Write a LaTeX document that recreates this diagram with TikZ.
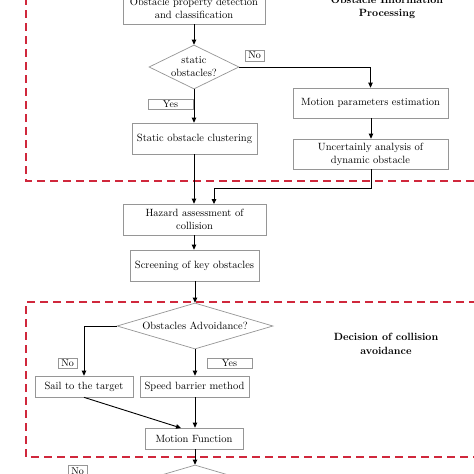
\documentclass[tikz,border=0pt]{standalone}
\usetikzlibrary{shapes.geometric,arrows.meta}
\definecolor{zonered}{RGB}{208,40,60}
\definecolor{boxgray}{RGB}{150,150,150}
\begin{document}
\begin{tikzpicture}[x=1pt,y=-1pt,
  box/.style={draw=boxgray, line width=0.7pt, align=center, inner sep=0pt, font=\fontsize{10.5}{13}\selectfont},
  dia/.style={diamond, draw=boxgray, line width=0.7pt, inner sep=0pt},
  diatext/.style={align=center, inner sep=0pt, font=\fontsize{10.5}{13}\selectfont},
  lbl/.style={draw=boxgray, line width=0.6pt, inner sep=0pt, font=\fontsize{10}{12}\selectfont},
  arr/.style={-{Triangle[length=5pt,width=4.5pt]}, line width=0.9pt},
  plain/.style={line width=0.9pt},
  zone/.style={draw=zonered, line width=1.6pt, dash pattern=on 8pt off 5pt},
  zonetext/.style={align=center, inner sep=0pt, font=\bfseries\fontsize{10.5}{13.5}\selectfont}]
\useasboundingbox (0,0) rectangle (474,474);
\clip (0,0) rectangle (474,474);
\fill[white] (0,0) rectangle (474,474);

% zones
\draw[zone] (490,-20) -- (26,-20) -- (26,181) -- (490,181);
\draw[zone] (490,302) -- (26,302) -- (26,457) -- (490,457);
\node[zonetext] (zt1) at (387,7.5) {Obstacle Information\\Processing};
\node[zonetext] (zt2) at (386,344) {Decision of collision\\avoidance};

% nodes
\node[box, minimum width=142pt, minimum height=31pt] (top) at (194,8.5) {Obstacle property detection\\and classification};
\node[dia, minimum width=90pt, minimum height=44pt] (d1) at (194,67) {};
\node[diatext] (d1t) at (194,67) {static\\obstacles?};
\node[lbl, minimum width=19pt, minimum height=11pt] (no1) at (254.5,55.5) {No};
\node[box, minimum width=155pt, minimum height=30pt] (mp) at (370.5,103) {Motion parameters estimation};
\node[box, minimum width=155pt, minimum height=30pt] (ua) at (370.5,154) {Uncertainly analysis of\\dynamic obstacle};
\node[lbl, minimum width=45pt, minimum height=10pt] (yes1) at (170.5,104) {Yes};
\node[box, minimum width=125pt, minimum height=31pt] (sc) at (194.5,138.5) {Static obstacle clustering};
\node[box, minimum width=143pt, minimum height=31pt] (hz) at (194.5,219.5) {Hazard assessment of\\collision};
\coordinate (hzin) at (214,204);
\node[box, minimum width=129pt, minimum height=31pt] (sr) at (194.5,265.5) {Screening of key obstacles};
\node[dia, minimum width=156pt, minimum height=46pt] (d2) at (195,326) {};
\node[diatext] (d2t) at (195,326) {Obstacles Advoidance?};
\node[lbl, minimum width=19pt, minimum height=10pt] (no2) at (67.5,363) {No};
\node[lbl, minimum width=45pt, minimum height=10pt] (yes2) at (229.5,363) {Yes};
\node[box, minimum width=98pt, minimum height=21pt] (sail) at (84,386.5) {Sail to the target};
\node[box, minimum width=109pt, minimum height=21pt] (sp) at (194.5,386.5) {Speed barrier method};
\node[box, minimum width=98pt, minimum height=21pt] (mf) at (194,438.5) {Motion Function};
\coordinate (mfin) at (181,428);
\node[dia, minimum width=156pt, minimum height=46pt] (d3) at (195,488) {};
\node[lbl, minimum width=19pt, minimum height=11pt] (no3) at (77.5,471) {No};

% connectors
\draw[arr] (top.south) -- (d1.north);
\draw[arr] (d1.east) -| (mp.north);
\draw[arr] (d1.south) -- (sc.north -| d1.south);
\draw[arr] (mp.south -| 371,0) -- (ua.north -| 371,0);
\draw[arr] (sc.south -| d1.south) -- (hz.north -| d1.south);
\draw[arr] (ua.south -| 371,0) -- (371,188) -| (hzin);
\draw[arr] (hz.south -| d1.south) -- (sr.north -| d1.south);
\draw[arr] (sr.south -| d2.north) -- (d2.north);
\draw[arr] (d2.west) -| (sail.north);
\draw[arr] (d2.south) -- (sp.north -| d2.south);
\draw[arr] (sail.south) -- (mfin);
\draw[arr] (sp.south -| d2.south) -- (mf.north -| d2.south);
\draw[arr] (mf.south -| d2.south) -- (d3.north);
\end{tikzpicture}
\end{document}
